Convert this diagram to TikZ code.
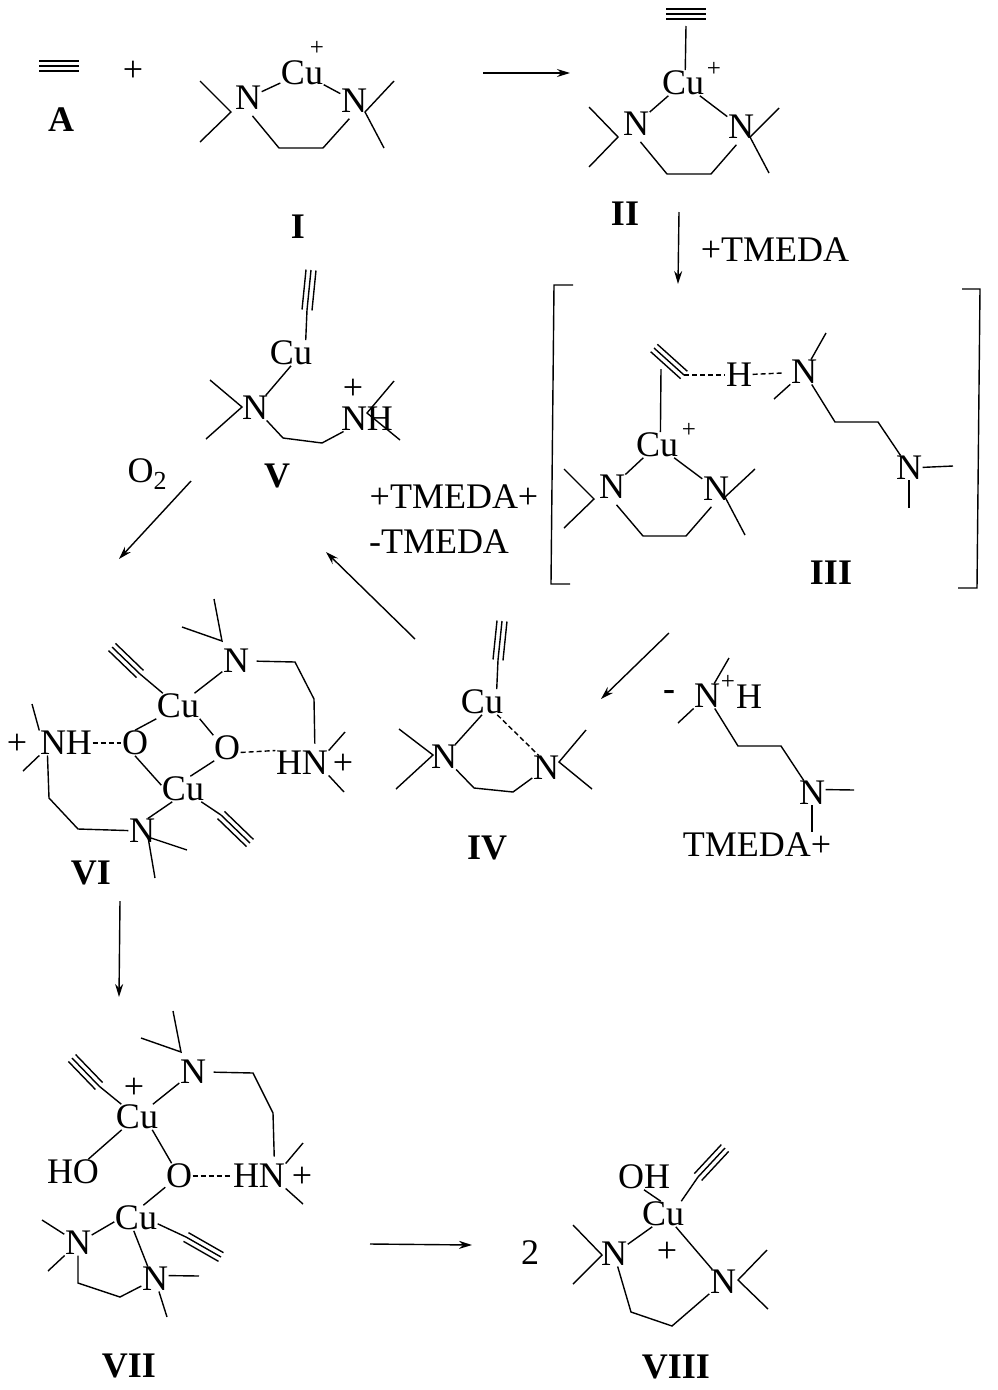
\documentclass[tikz,border=0pt]{standalone}
\usepackage{fontspec}
\setmainfont{Liberation Serif}
\usetikzlibrary{arrows.meta,calc}

\tikzset{
  atom/.style={inner sep=0pt, font=\fontsize{36}{38}\selectfont},
  smallplus/.style={inner sep=0pt, font=\fontsize{25}{27}\selectfont},
  molname/.style={inner sep=0pt, font=\fontsize{36}{38}\selectfont\bfseries},
  chainbond/.style={shorten <=7pt, shorten >=7pt},
  hbond/.style={dash pattern=on 5pt off 3pt},
  rxn/.style={-{Stealth[length=13pt,width=8pt]}}
}

\newcommand{\tribond}[2]{
  \draw (#1) -- (#2);
  \draw ($(#1)!5pt!90:(#2)$) -- ($(#2)!5pt!-90:(#1)$);
  \draw ($(#1)!5pt!-90:(#2)$) -- ($(#2)!5pt!90:(#1)$);
}

\begin{document}
\begin{tikzpicture}[x=1pt, y=-1pt, line width=1.4pt]
  \useasboundingbox (0,0) rectangle (998,1390);

  \foreach \name/\txt/\px/\py in {
    plusa/+/133/71, icu/Cu/302/73, in1/N/248/98, in2/N/354/101,
    iicu/Cu/683/83, iin1/N/636/124, iin2/N/741/127, tmedaa/+TMEDA/775/250,
    iiicu/Cu/657/445, iiin1/N/612/487, iiin2/N/716/489, iiih/H/739/375, iiin3/N/804/372, iiin4/N/909/468,
    vcu/Cu/291/353, vn1/N/255/408, vnh/NH/367/419, vplus/+/353/389,
    oxy/O\raisebox{-7pt}{\fontsize{26}{28}\selectfont 2}/147/474, tmedab/+TMEDA+/454/497, tmedac/-TMEDA/439/542,
    vicua/Cu/178/706, vicub/Cu/183/789, vin1/N/236/661, vin2/N/142/831, vio1/O/135/743, vio2/O/227/748,
    vinh/NH/66/743, vihn/HN/302/763, viplusa/+/17/744, viplusb/+/343/764,
    ivcu/Cu/482/702, ivn1/N/444/757, ivn2/N/546/768,
    tn1/N/707/696, th/H/749/697, tn2/N/812/793, tmedad/TMEDA+/757/845,
    viicua/Cu/137/1117, viicub/Cu/136/1218, viin1/N/193/1072, viin2/N/78/1243, viin3/N/155/1279,
    viio/O/179/1176, viiho/HO/73/1172, viihn/HN/259/1176, viiplusa/+/134/1088, viiplusb/+/302/1177,
    two/2/530/1253, viiicu/Cu/663/1214, viiioh/OH/644/1177, viiin1/N/614/1254, viiin2/N/723/1282, viiiplus/+/667/1252}
    \node[atom] (\name) at (\px,\py) {\txt};

  \foreach \name/\txt/\px/\py in {iplus/+/317/48, iiplus/+/714/69, iiiplus/+/689/430, tplus/+/728/682}
    \node[smallplus] (\name) at (\px,\py) {\txt};

  \foreach \name/\txt/\px/\py in {
    labela/A/61/120, labeli/I/298/227, labelii/II/625/214, labeliii/III/831/573, labeliv/IV/487/848,
    labelv/V/277/476, labelvi/VI/91/873, labelvii/VII/129/1366, labelviii/VIII/676/1367, tminus/-/669/695}
    \node[molname] (\name) at (\px,\py) {\txt};

  \foreach \name/\px/\py in {
    ia/200/81, ib/200/142, ic/231/112, id/394/81, ie/384/148, ig/365/112, ih/279/148, ij/323/148,
    iia/589/107, iib/589/167, iic/618/137, iid/779/108, iie/769/173, iig/750/137, iih/667/174, iij/711/174,
    iit/666/14, iiu/706/14, iiv/686/26,
    iiia/564/469, iiib/564/528, iiic/594/499, iiid/755/469, iiie/745/535, iiig/725/497, iiih1/643/536, iiij/686/536,
    iiit/684/375, iiiu/654/348, iiiv/661/369, iiik/826/333, iiil/774/399, iiim/835/422, iiin/878/422, iiio/953/466, iiip/909/508,
    va/210/380, vb/206/439, vc/242/407, vd/394/381, ve/400/440, vg/367/413, vh/283/438, vj/322/443, vt/307/310, vu/311/270,
    via/112/647, vib/140/674, vic/222/641, vid/214/599, vie/182/627, vig/295/662, vih/314/699,
    vij/345/732, vik/344/792, vil/32/704, vim/23/771, vin/49/798, vio/78/829, vip/187/850, viq/155/878, vir/148/837, vis/221/815, vit/250/843,
    iva/399/729, ivb/396/789, ivc/433/755, ivd/586/730, ive/592/789, ivg/559/762, ivh/474/788, ivj/513/792, ivt/498/660, ivu/502/621,
    ta/729/658, tb/678/723, tc/738/746, td/781/746, te/854/790, tg/812/832,
    viia/99/1086, viib/72/1058, viic/181/1052, viid/173/1011, viie/141/1038, viig/253/1073, viih/273/1113,
    viij/303/1143, viik/303/1204, viil/186/1237, viim/221/1257, viin/42/1220, viio1/48/1271, viip/78/1283, viiq/120/1297, viir/199/1276, viis/167/1317,
    viiia/573/1225, viiib/573/1284, viiic/602/1255, viiid/767/1250, viiie/768/1309, viiig/738/1280, viiih/631/1312, viiij/672/1326, viiik/698/1177, viiil/725/1148,
    aa/39/66, ab/79/66,
    ra/483/73, rb/570/73, rc/679/212, rd/678/284, re/191/481, rf/119/559, rg/415/639, rh/326/552, ri/669/633, rj/601/699, rk/120/901, rl/119/997, rm/370/1244, rn/472/1245,
    ba/573/285, bb/554/285, bc/551/584, bd/570/584, be/962/289, bf/980/289, bg/977/588, bh/958/588}
    \coordinate (\name) at (\px,\py);

  \foreach \a/\b/\c in {
    ia/ic/ib, id/ig/ie, iia/iic/iib, iid/iig/iie, iiia/iiic/iiib, iiid/iiig/iiie, va/vc/vb, vd/vg/ve,
    vid/vic/vie, iva/ivc/ivb, ivd/ivg/ive, viid/viic/viie, viiia/viiic/viiib, viiid/viiig/viiie}
    \draw (\a) -- (\b) -- (\c);
  \draw (ba) -- (bb) -- (bc) -- (bd);
  \draw (be) -- (bf) -- (bg) -- (bh);

  \foreach \a/\b in {
    in1/icu, icu/in2, iin1/iicu, iicu/iin2, iiv/iicu.80, iiin1/iiicu, iiicu/iiin2, iiiv/iiicu.75,
    iiik/iiin3, iiil/iiin3, iiio/iiin4, iiip/iiin4,
    vcu.south/vn1, vt/vcu.41,
    vicua.south west/vio1.north, vicua.south east/vio2.north west, vio1.south/vicub.170, vio2.225/vicub.60,
    vib/vicua, vicua/vin1, vicub.230/vin2.65, vicub.-35/vis, vir/vip, vir/viq,
    vij/vihn.north east, vik/vihn.south east, vil/vinh.north west, vim/vinh.south west,
    ivcu.south/ivn1, ivt/ivcu.41,
    ta/tn1, tb/tn1, tn2.14/te, tn2/tg,
    viia/viicua, viicua/viin1, viicua.-40/viio, viicua.220/viiho.40, viio/viicub.60,
    viicub.190/viin2, viicub.-100/viin3.120, viicub.-15/viil, viin3.14/viir, viin3/viis,
    viij/viihn.north east, viik/viihn.south east, viin/viin2, viio1/viin2,
    viiicu.35/viiik, viiicu.230/viiin1, viiicu.-45/viiin2, viiioh.south/viiicu.100}
    \draw (\a) -- (\b);

  \draw[chainbond] (in1.south) -- (ih) -- (ij) -- (in2.south);
  \draw[chainbond] (iin1.south) -- (iih) -- (iij) -- (iin2.south);
  \draw[chainbond] (iiin1.south) -- (iiih1) -- (iiij) -- (iiin2.south);
  \draw (iiin3) -- (iiim) -- (iiin) -- (iiin4);
  \draw (vn1) -- (vh) -- (vj) -- (vnh);
  \draw[chainbond] (vin1.east) -- (vig) -- (vih) -- (vihn.44);
  \draw (vinh.-146) -- (vin) -- (vio) -- (vin2);
  \draw (ivn1) -- (ivh) -- (ivj) -- (ivn2);
  \draw (tn1) -- (tc) -- (td) -- (tn2);
  \draw[chainbond] (viin1.east) -- (viig) -- (viih) -- (viihn.39);
  \draw (viin2) -- (viip) -- (viiq) -- (viin3);
  \draw (viiin1) -- (viiih) -- (viiij) -- (viiin2);

  \tribond{aa}{ab}
  \tribond{iit}{iiu}
  \tribond{iiit}{iiiu}
  \tribond{vt}{vu}
  \tribond{via}{vib}
  \tribond{vis}{vit}
  \tribond{ivt}{ivu}
  \tribond{viia}{viib}
  \tribond{viil}{viim}
  \tribond{viiik}{viiil}

  \draw[hbond] (iiit) -- (iiih);
  \draw[hbond, shorten >=6pt] (iiih) -- (iiin3);
  \draw[hbond] (vinh) -- (vio1);
  \draw[hbond] (vio2.-18) -- (vihn.north west);
  \draw[hbond] (ivcu.-40) -- (ivn2.120);
  \draw[hbond] (viio) -- (viihn);

  \foreach \a/\b in {ra/rb, rc/rd, re/rf, rg/rh, ri/rj, rk/rl, rm/rn}
    \draw[rxn] (\a) -- (\b);
\end{tikzpicture}
\end{document}
